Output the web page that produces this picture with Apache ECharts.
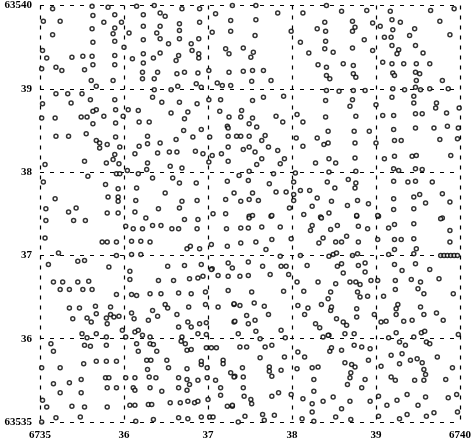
<!DOCTYPE html>
<html><head><meta charset="utf-8">
<script src="https://cdn.jsdelivr.net/npm/echarts@6/dist/echarts.min.js"></script>
<style>html,body{margin:0;padding:0;background:#fff}#c{width:474px;height:445px}</style>
</head><body><div id="c"></div>
<script>
const xTickLabels = {35:'6735',36:'36',37:'37',38:'38',39:'39',40:'6740'};
const yTickLabels = {35:'63535',36:'36',37:'37',38:'38',39:'39',40:'63540'};
const ptsNW = [[35.15,39.96],[35.04,39.81],[35.24,39.81],[35.15,39.65],[35.03,39.46],[35.08,39.37],[35.38,39.38],[35.51,39.39],[35.62,39.39],[35.02,39.24],[35.19,39.26],[35.26,39.22],[35.53,39.23],[35.62,39.99],[35.63,39.88],[35.76,39.80],[35.62,39.72],[35.63,39.56],[35.63,39.29],[35.61,39.10],[35.67,39.03],[35.81,39.98],[35.89,39.89],[35.89,39.73],[35.87,39.66],[35.89,39.57],[35.97,39.80],[35.89,39.40],[35.89,39.29],[35.87,39.10],[36.0,39.50],[36.06,39.67],[36.10,39.36],[36.15,39.99],[36.23,39.89],[36.23,39.75],[36.23,39.59],[36.23,39.42],[36.23,39.31],[36.22,39.20],[36.22,39.12],[36.36,40.0],[36.43,39.91],[36.49,39.87],[36.43,39.75],[36.39,39.67],[36.43,39.60],[36.53,39.54],[36.43,39.43],[36.35,39.37],[36.40,39.20],[36.36,39.12],[36.66,39.70],[36.66,39.60],[36.66,39.78],[36.65,39.40],[36.62,39.34],[36.63,39.18],[36.69,39.96],[36.72,39.20],[36.80,39.54],[36.81,39.46],[36.89,39.60],[36.90,39.96],[36.90,39.80],[36.89,39.42],[36.89,39.37],[36.88,39.19],[36.86,39.06],[37.01,39.22],[37.05,39.68],[37.09,39.90],[37.21,39.48],[37.25,39.20],[37.27,39.69],[37.27,39.82],[37.29,40.0],[37.25,39.42],[37.11,39.07],[37.17,39.04],[37.27,39.04],[36.64,39.03],[36.56,38.99],[36.36,38.99],[36.92,39.02],
[35.19,38.94],[35.33,38.94],[35.50,38.94],[35.37,38.83],[35.03,38.82],[35.60,38.87],[35.67,38.75],[35.63,38.73],[35.89,38.87],[35.90,38.75],[36.05,38.75],[36.17,38.74],[35.76,38.67],[35.99,38.67],[35.49,38.66],[35.56,38.66],[35.18,38.65],[35.02,38.65],[35.63,38.58],[35.90,38.59],[36.18,38.60],[36.30,38.60],[35.19,38.43],[35.34,38.43],[35.55,38.46],[35.67,38.38],[35.71,38.35],[35.80,38.33],[35.71,38.29],[35.95,38.30],[35.90,38.42],[36.28,38.43],[36.28,38.34],[36.18,38.31],[36.43,38.35],[36.13,38.22],[36.40,38.23],[36.54,38.24],[36.63,38.24],[35.89,38.21],[35.53,38.13],[35.79,38.11],[35.87,38.15],[35.94,38.10],[36.28,38.11],[35.06,38.09],[36.34,38.90],[36.45,38.84],[36.66,38.84],[36.56,38.71],[36.76,38.72],[36.87,38.82],[37.01,38.87],[36.72,38.64],[36.71,38.50],[36.92,38.51],[36.82,38.42],[36.62,38.39],[37.02,38.42],[37.05,38.20],[36.94,38.22],[36.85,38.25],[37.15,38.87],[37.14,38.73],[37.25,38.66],[37.23,38.55],[37.24,38.43],[37.24,38.30],[37.16,38.22],[37.01,38.12],[37.24,38.13],[36.55,38.07],[36.69,38.05],[36.58,37.93],
[35.91,37.98],[35.95,37.98],[36.04,38.02],[36.17,37.98],[36.27,38.03],[36.34,37.93],[35.57,37.95],[35.04,37.88],[35.78,37.85],[35.93,37.80],[36.15,37.81],[36.66,37.87],[36.86,37.87],[37.23,37.89],[36.49,37.75],[35.81,37.70],[35.93,37.70],[35.93,37.65],[36.14,37.66],[36.69,37.65],[36.87,37.66],[37.21,37.67],[35.18,37.68],[35.07,37.56],[35.34,37.52],[35.43,37.57],[35.80,37.51],[35.93,37.51],[36.13,37.52],[36.41,37.56],[36.66,37.57],[37.06,37.50],[37.21,37.50]];
const ptsNE = [[37.57,40.0],[37.83,39.91],[38.13,39.91],[37.57,39.83],[37.56,39.64],[37.99,39.69],[38.10,39.56],[37.42,39.49],[37.54,39.44],[37.51,39.38],[37.42,39.21],[37.53,39.22],[37.66,39.22],[37.52,39.09],[37.75,39.10],[38.41,40.0],[38.59,39.93],[38.39,39.80],[38.30,39.72],[38.40,39.69],[38.40,39.57],[38.39,39.48],[38.49,39.44],[38.20,39.43],[38.31,39.29],[38.41,39.26],[38.41,39.16],[38.45,39.12],[38.61,39.30],[38.72,39.81],[38.75,39.74],[38.72,39.69],[38.86,39.59],[38.72,39.49],[38.73,39.28],[38.73,39.18],[38.76,39.14],[38.89,39.94],[38.96,39.79],[38.96,39.46],[39.08,39.32],[39.05,39.75],[39.10,39.62],[39.17,39.93],[39.19,39.83],[39.29,39.80],[39.20,39.71],[39.18,39.62],[39.19,39.52],[39.27,39.47],[39.25,39.42],[39.19,39.30],[39.20,39.19],[39.22,39.16],[39.33,39.30],[39.40,39.64],[39.46,39.72],[39.47,39.52],[39.48,39.30],[39.47,39.20],[39.52,39.18],[39.48,39.10],[39.65,39.94],[39.64,39.30],[39.76,39.81],[39.88,39.65],[39.93,39.96],[39.56,39.43],[39.79,39.10],[39.20,39.0],[39.34,38.99],[39.47,39.02],[39.53,38.99],[39.64,39.00],[39.86,39.00],[38.41,38.98],[38.56,38.97],[38.73,38.98],[38.87,38.98],
[37.66,38.90],[37.90,38.91],[37.53,38.86],[37.40,38.74],[37.39,38.66],[37.53,38.65],[37.81,38.67],[37.49,38.58],[37.58,38.54],[37.89,38.60],[37.24,38.53],[37.39,38.43],[37.49,38.43],[37.68,38.44],[37.64,38.38],[37.34,38.43],[37.42,38.27],[37.49,38.30],[37.56,38.24],[37.72,38.30],[37.83,38.26],[37.91,38.16],[37.64,38.16],[37.86,38.10],[37.58,38.09],[38.06,38.69],[38.13,38.60],[38.05,38.41],[38.13,38.31],[38.30,38.41],[38.38,38.33],[38.43,38.35],[38.28,38.11],[38.44,38.16],[38.52,38.11],[38.40,38.86],[38.40,38.66],[38.43,38.49],[38.69,38.79],[38.72,38.87],[38.76,38.67],[38.74,38.49],[38.75,38.35],[38.75,38.17],[38.92,38.49],[39.00,38.35],[39.00,38.81],[39.08,38.68],[39.19,38.90],[39.21,38.68],[39.21,38.51],[39.22,38.38],[39.30,38.38],[39.10,38.16],[39.22,38.19],[39.43,38.19],[39.48,38.20],[39.45,38.91],[39.45,38.83],[39.47,38.70],[39.55,38.70],[39.47,38.53],[39.69,38.53],[39.71,38.77],[39.72,38.83],[39.84,38.71],[39.85,38.55],[39.98,38.53],[39.76,38.39],[39.97,38.40],[39.89,38.20],[39.99,38.77],
[37.37,37.96],[37.49,38.01],[37.78,37.98],[38.04,37.99],[38.44,38.0],[38.76,38.01],[39.21,38.04],[39.27,38.02],[39.47,38.04],[39.55,38.03],[37.48,37.90],[37.73,37.86],[38.02,37.88],[38.42,37.88],[38.67,37.91],[38.76,37.87],[38.75,37.81],[38.51,37.81],[39.21,37.89],[39.38,37.88],[39.47,37.89],[39.67,37.88],[37.31,37.75],[37.53,37.75],[37.81,37.76],[37.93,37.76],[38.10,37.78],[38.21,37.78],[38.02,37.73],[37.39,37.65],[37.49,37.67],[37.60,37.66],[38.02,37.66],[38.30,37.69],[38.47,37.65],[38.66,37.60],[38.78,37.66],[38.91,37.62],[39.21,37.68],[39.45,37.70],[39.52,37.73],[39.59,37.63],[39.79,37.74],[39.88,37.64],[37.97,37.57],[38.24,37.59],[39.21,37.55],[39.45,37.56],[37.49,37.47],[37.75,37.47],[38.14,37.49],[38.34,37.46],[38.44,37.51],[38.77,37.47],[39.03,37.47],[39.79,37.45]];
const ptsSW = [[35.07,37.42],[35.40,37.42],[35.54,37.42],[35.06,37.21],[35.74,37.16],[35.80,37.16],[35.91,37.16],[36.02,37.35],[36.11,37.32],[36.22,37.32],[36.34,37.36],[36.44,37.36],[36.09,37.17],[36.20,37.17],[36.31,37.16],[36.26,37.45],[36.57,37.32],[36.65,37.32],[36.72,37.43],[36.87,37.32],[36.88,37.43],[37.22,37.32],[36.75,37.08],[36.79,37.11],[36.90,37.08],[37.04,37.13],[37.23,37.11],[35.22,37.03],[35.91,37.0],[36.09,37.01],[36.20,37.01],[35.10,36.89],[35.45,36.93],[35.53,36.94],[35.82,36.86],[36.07,36.81],[36.52,36.87],[36.72,36.88],[36.92,36.89],[37.05,36.84],[37.24,36.91],[37.29,36.85],[35.16,36.68],[35.27,36.68],[35.45,36.68],[35.58,36.69],[35.24,36.59],[35.35,36.59],[35.51,36.59],[35.62,36.59],[36.07,36.71],[36.41,36.70],[36.59,36.70],[36.78,36.72],[36.88,36.73],[36.94,36.75],[37.04,36.83],[37.12,36.76],[37.24,36.75],[35.91,36.53],[36.09,36.53],[36.15,36.52],[36.31,36.54],[36.44,36.54],[36.65,36.55],[36.80,36.54],[36.97,36.56],[37.24,36.58],[36.49,36.41],[36.52,36.37],[36.77,36.38],[36.97,36.41],[37.12,36.38],[37.31,36.41],[35.35,36.37],[35.47,36.37],[35.66,36.39],[35.84,36.38],[35.39,36.24],[35.56,36.25],[35.61,36.20],[35.67,36.30],[35.79,36.25],[35.84,36.29],[35.88,36.26],[35.94,36.27],[35.80,36.18],[36.09,36.31],[36.12,36.24],[36.29,36.22],[36.34,36.34],[36.40,36.27],[36.63,36.29],[36.65,36.14],[36.76,36.20],[36.80,36.14],[36.90,36.18],[36.98,36.19],[37.31,36.20],[35.50,36.06],[35.67,36.06],[35.56,36.01],[35.79,36.02],[35.98,36.10],[36.13,36.08],[36.17,36.10],[36.22,36.04],[36.31,36.02],[36.02,36.02],[36.69,36.02],[36.88,36.06],[36.98,36.05],
[35.13,35.94],[35.16,35.85],[35.53,35.92],[35.60,35.91],[35.79,35.92],[36.15,35.94],[36.31,35.94],[36.35,35.93],[36.17,35.85],[36.39,35.85],[36.68,35.97],[36.73,35.94],[36.75,35.86],[36.80,35.87],[36.98,35.89],[37.04,35.89],[37.10,35.89],[35.02,35.65],[35.24,35.65],[35.52,35.70],[35.67,35.73],[35.79,35.73],[35.91,35.73],[36.27,35.74],[36.32,35.74],[36.51,35.74],[36.28,35.63],[36.53,35.65],[36.75,35.64],[36.92,35.69],[36.99,35.65],[36.92,35.73],[37.18,35.74],[37.18,35.70],[37.27,35.59],[37.32,35.55],[35.16,35.46],[35.35,35.47],[35.49,35.51],[35.78,35.53],[35.82,35.53],[36.02,35.53],[36.13,35.53],[36.30,35.54],[36.38,35.53],[36.65,35.53],[36.75,35.51],[36.88,35.50],[36.99,35.53],[37.09,35.50],[36.78,35.45],[35.24,35.35],[35.49,35.35],[35.80,35.41],[35.91,35.41],[36.11,35.41],[36.13,35.38],[36.31,35.41],[36.45,35.37],[36.65,35.41],[36.75,35.38],[37.15,35.41],[37.15,35.32],[35.03,35.26],[35.08,35.18],[35.38,35.19],[35.53,35.18],[35.80,35.18],[36.07,35.20],[36.13,35.20],[36.29,35.21],[36.33,35.21],[36.55,35.23],[36.67,35.23],[36.76,35.25],[36.84,35.23],[36.88,35.25],[37.0,35.27],[37.23,35.19],[37.29,35.19],[35.02,35.0],[35.19,35.05],[35.48,35.06],[36.14,35.01],[36.35,35.03],[36.65,35.05],[36.76,35.04],[36.92,35.06],[37.02,35.06],[37.06,35.06]];
const ptsSE = [[37.49,37.45],[37.53,37.48],[37.76,37.48],[38.35,37.45],[38.77,37.48],[39.02,37.48],[39.77,37.44],[37.39,37.33],[37.48,37.33],[37.64,37.34],[37.86,37.34],[38.22,37.30],[38.24,37.36],[38.46,37.31],[38.54,37.36],[38.79,37.35],[38.90,37.32],[39.15,37.33],[39.22,37.37],[39.45,37.38],[39.88,37.30],[39.88,37.16],[37.39,37.15],[37.57,37.16],[37.76,37.19],[37.99,37.20],[38.32,37.15],[38.37,37.21],[38.52,37.16],[38.59,37.16],[38.65,37.23],[38.79,37.16],[39.02,37.19],[39.22,37.19],[39.30,37.19],[39.45,37.20],[37.69,37.07],[39.22,37.07],[39.48,37.08],[37.86,36.99],[38.10,37.0],[38.44,36.99],[38.49,37.01],[38.53,37.03],[38.72,37.0],[38.78,37.02],[39.15,37.01],[39.45,37.02],[39.77,37.0],[39.81,37.0],[39.85,37.0],[39.89,37.0],[39.93,37.0],[39.97,37.0],[37.48,36.92],[37.65,36.87],[37.87,36.87],[37.93,36.87],[38.18,36.88],[38.54,36.87],[38.59,36.90],[38.79,36.88],[38.87,36.91],[39.22,36.89],[39.47,36.90],[39.64,36.83],[37.38,36.75],[37.48,36.76],[37.74,36.77],[37.96,36.77],[38.61,36.79],[38.87,36.80],[39.31,36.82],[38.06,36.68],[38.31,36.68],[38.52,36.66],[38.69,36.68],[38.76,36.68],[38.81,36.65],[38.94,36.70],[39.02,36.70],[39.23,36.70],[39.42,36.71],[39.53,36.68],[39.75,36.72],[37.52,36.56],[37.90,36.57],[38.14,36.57],[38.46,36.56],[38.78,36.56],[38.81,36.50],[38.90,36.51],[39.09,36.51],[39.23,36.59],[39.50,36.60],[39.57,36.54],[39.92,36.54],[37.31,36.42],[37.38,36.40],[37.55,36.43],[37.67,36.39],[38.07,36.40],[38.19,36.37],[38.35,36.41],[38.43,36.48],[38.46,36.34],[38.47,36.38],[38.77,36.36],[39.26,36.41],[39.24,36.36],[39.53,36.38],[37.46,36.28],[37.72,36.29],[38.15,36.29],[38.77,36.26],[38.98,36.29],[39.24,36.29],[39.57,36.29],[39.72,36.31],[37.32,36.21],[37.48,36.18],[37.56,36.22],[38.28,36.18],[38.53,36.24],[38.61,36.20],[38.65,36.16],[39.06,36.20],[39.12,36.21],[39.33,36.21],[39.43,36.22],[39.80,36.22],[37.36,36.06],[37.57,36.09],[37.87,36.10],[38.33,36.13],[38.44,36.04],[38.63,36.06],[38.74,36.06],[39.24,36.07],[39.54,36.07],[39.58,36.09],[39.98,36.05],[37.62,36.0],[37.92,36.01],[38.37,36.02],[38.43,36.04],[39.15,36.01],[39.45,36.02],
[37.38,35.90],[37.46,35.90],[37.68,35.90],[37.76,35.92],[38.07,35.84],[38.45,35.85],[38.47,35.89],[38.59,35.86],[38.74,35.92],[38.83,35.90],[38.93,35.88],[39.28,35.96],[39.35,35.92],[39.31,35.82],[39.60,35.96],[39.64,35.94],[37.62,35.77],[37.91,35.78],[38.15,35.78],[38.63,35.71],[38.71,35.69],[38.75,35.66],[38.91,35.74],[39.06,35.67],[39.18,35.80],[39.41,35.74],[39.55,35.71],[39.73,35.78],[37.41,35.65],[37.73,35.66],[37.73,35.61],[37.76,35.55],[37.87,35.62],[38.06,35.64],[38.24,35.65],[38.31,35.66],[38.70,35.59],[39.57,35.63],[39.59,35.57],[39.28,35.70],[39.49,35.76],[39.91,35.65],[37.31,35.54],[37.42,35.54],[38.26,35.51],[38.69,35.53],[38.87,35.51],[39.18,35.54],[39.23,35.50],[39.46,35.50],[39.57,35.50],[39.83,35.51],[37.42,35.41],[37.43,35.31],[37.51,35.27],[37.76,35.31],[37.84,35.35],[37.99,35.33],[38.13,35.28],[38.26,35.37],[38.37,35.25],[38.49,35.30],[38.66,35.45],[38.83,35.41],[39.03,35.31],[38.93,35.25],[39.25,35.26],[39.37,35.33],[39.59,35.30],[39.86,35.29],[39.96,35.33],[37.29,35.20],[37.52,35.22],[38.24,35.22],[38.59,35.16],[38.69,35.25],[39.13,35.20],[39.50,35.20],[37.44,35.07],[37.65,35.09],[37.79,35.08],[38.24,35.12],[38.12,35.04],[38.26,35.01],[38.52,35.06],[38.70,35.03],[39.03,35.07],[39.28,35.04],[39.37,35.09],[39.60,35.07],[39.69,35.11],[39.97,35.12],[37.36,35.0],[37.67,35.02]];

const chart = echarts.init(document.getElementById('c'));
const lbl = {color:'#000', fontFamily:'Liberation Serif, DejaVu Serif, serif', fontSize:11, fontWeight:'bold'};
const split = {show:true, lineStyle:{color:'#000', type:[4,6], width:1.2}};
const mk = d => ({type:'scatter', data:d, symbol:'circle', symbolSize:4,
  itemStyle:{color:'#fff', borderColor:'#000', borderWidth:1.5}, silent:true});
chart.setOption({
  animation:false,
  grid:{left:40, right:11, top:5, bottom:23},
  xAxis:{type:'value', min:35, max:40, interval:1, axisLine:{show:false}, axisTick:{show:false},
    splitLine:split, axisLabel:Object.assign({formatter:v=>xTickLabels[v], margin:8}, lbl)},
  yAxis:{type:'value', min:35, max:40, interval:1, axisLine:{show:false}, axisTick:{show:false},
    splitLine:split, axisLabel:Object.assign({formatter:v=>yTickLabels[v], margin:8}, lbl)},
  series:[mk(ptsNW), mk(ptsNE), mk(ptsSW), mk(ptsSE)]
});
</script></body></html>
